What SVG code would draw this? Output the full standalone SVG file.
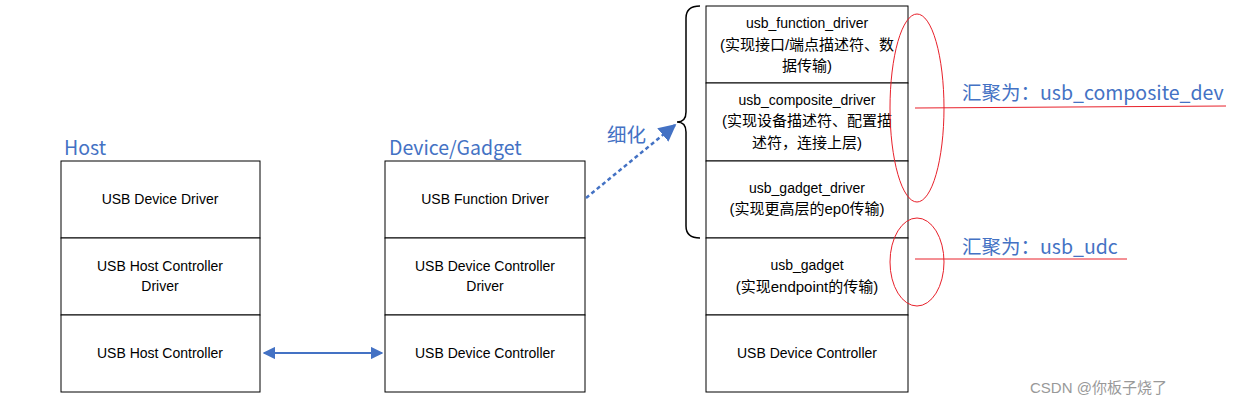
<svg xmlns="http://www.w3.org/2000/svg" width="1243" height="406" viewBox="0 0 1243 406">
<defs>
<style>
.box{fill:#fff;stroke:#000;stroke-width:1}
.t{font-family:"Liberation Sans","Noto Sans CJK SC",sans-serif;font-size:14px;fill:#000;text-anchor:middle}
.c{font-size:15px}
.b{font-family:"Noto Sans CJK SC","Liberation Sans",sans-serif;font-size:19.5px;fill:#4472c4}
.red{fill:none;stroke:#e8202a;stroke-width:1}
</style>
<marker id="ah" viewBox="0 0 10 10" refX="9" refY="5" markerWidth="7" markerHeight="7" orient="auto-start-reverse"><path d="M0,0L10,5L0,10z" fill="#4472c4"/></marker>
</defs>
<rect width="1243" height="406" fill="#fff"/>
<text class="b" x="64" y="155">Host</text>
<text class="b" x="389" y="155">Device/Gadget</text>
<g id="host">
<rect class="box" x="61" y="161" width="199" height="77"/><text class="t" x="160" y="204">USB Device Driver</text>
<rect class="box" x="61" y="238" width="199" height="77"/><text class="t" x="160" y="271">USB Host Controller</text><text class="t" x="160" y="291">Driver</text>
<rect class="box" x="61" y="315" width="199" height="77"/><text class="t" x="160" y="358">USB Host Controller</text>
</g>
<g id="device">
<rect class="box" x="385" y="161" width="200" height="77"/><text class="t" x="485" y="204">USB Function Driver</text>
<rect class="box" x="385" y="238" width="200" height="77"/><text class="t" x="485" y="271">USB Device Controller</text><text class="t" x="485" y="291">Driver</text>
<rect class="box" x="385" y="315" width="200" height="77"/><text class="t" x="485" y="358">USB Device Controller</text>
</g>
<g id="detail">
<rect class="box" x="706" y="6" width="202" height="77"/><text class="t" x="807" y="28">usb_function_driver</text><text class="t c" x="807" y="50">(实现接口/端点描述符、数</text><text class="t c" x="807" y="71">据传输)</text>
<rect class="box" x="706" y="83" width="202" height="78"/><text class="t" x="807" y="105">usb_composite_driver</text><text class="t c" x="807" y="126">(实现设备描述符、配置描</text><text class="t c" x="807" y="148">述符，连接上层)</text>
<rect class="box" x="706" y="161" width="202" height="77"/><text class="t" x="807" y="193">usb_gadget_driver</text><text class="t c" x="807" y="214">(实现更高层的ep0传输)</text>
<rect class="box" x="706" y="238" width="202" height="77"/><text class="t" x="807" y="270">usb_gadget</text><text class="t c" x="807" y="292">(实现endpoint的传输)</text>
<rect class="box" x="706" y="315" width="202" height="77"/><text class="t" x="807" y="358">USB Device Controller</text>
</g>
<g id="brace"><path d="M700,6 Q686,6 686,18 L686,112 Q686,122 677,122 Q686,122 686,132 L686,226 Q686,238 700,238" fill="none" stroke="#000" stroke-width="1.5"/></g>
<g id="labels">
<text class="b" x="607" y="142">细化</text>
<text class="b" x="962" y="100">汇聚为：usb_composite_dev</text>
<text class="b" x="962" y="254">汇聚为：usb_udc</text>
<ellipse class="red" cx="917" cy="108" rx="27" ry="94"/>
<ellipse class="red" cx="917" cy="262" rx="27" ry="44"/>
<line class="red" x1="915" y1="108" x2="1226" y2="106"/>
<line class="red" x1="915" y1="259" x2="1127" y2="259"/>
</g>
<g id="connectors">
<line x1="264" y1="353" x2="382" y2="353" stroke="#4472c4" stroke-width="1.8" marker-start="url(#ah)" marker-end="url(#ah)"/>
<line x1="586" y1="198" x2="675" y2="125" stroke="#4472c4" stroke-width="2.5" stroke-dasharray="4,3" marker-end="url(#ah)"/>
</g>
<text x="1030" y="393" font-family="Liberation Sans,Noto Sans CJK SC,sans-serif" font-size="15" fill="#999">CSDN @你板子烧了</text>
</svg>
